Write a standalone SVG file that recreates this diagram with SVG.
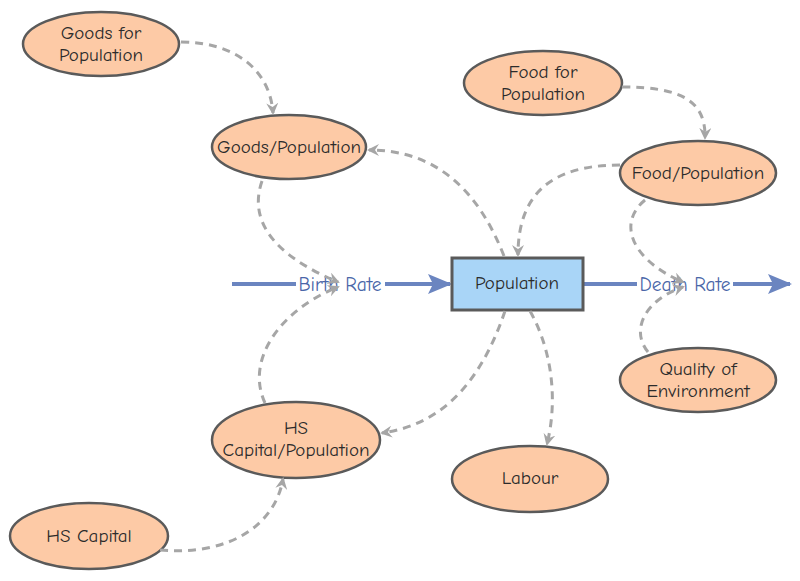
<svg xmlns="http://www.w3.org/2000/svg" width="800" height="581" viewBox="0 0 800 581">
<defs>
<style>
.node ellipse{fill:#fdcaa6;stroke:#5a5a5a;stroke-width:2.5}
.stock rect{fill:#a9d5f7;stroke:#5a5a5a;stroke-width:3}
.lbl{font-family:"Comic Sans MS","Comic Neue","DejaVu Sans",sans-serif;font-size:19px;fill:#2b2b2b;text-anchor:middle;dominant-baseline:central}
.flow{stroke:#6b85c0;stroke-width:4;fill:none}
.flbl{font-family:"Comic Sans MS","Comic Neue","DejaVu Sans",sans-serif;font-size:19.5px;fill:#4a66a8;text-anchor:middle;dominant-baseline:central}
.link{stroke:#a6a6a6;stroke-width:3;fill:none;stroke-dasharray:8 6;marker-end:url(#ah)}
</style>
<marker id="ah" viewBox="0 0 12 12" refX="10" refY="6" markerWidth="12" markerHeight="12" markerUnits="userSpaceOnUse" orient="auto">
<path d="M0,0 L12,6 L0,12 L4,6 z" fill="#a6a6a6"/>
</marker>
<marker id="fa" viewBox="0 0 24 20" refX="22" refY="10" markerWidth="24" markerHeight="20" markerUnits="userSpaceOnUse" orient="auto">
<path d="M0,0 L24,10 L0,20 L5,10 z" fill="#6b85c0"/>
</marker>
</defs>
<rect width="800" height="581" fill="#ffffff"/>
<g id="flows">
<line class="flow" x1="232" y1="284" x2="296" y2="284"/>
<line class="flow" x1="385" y1="284" x2="450" y2="284" marker-end="url(#fa)"/>
<text class="flbl" x="340" y="284">Birth Rate</text>
<line class="flow" x1="583" y1="284" x2="637" y2="284"/>
<line class="flow" x1="733" y1="284" x2="790" y2="284" marker-end="url(#fa)"/>
<text class="flbl" x="685" y="284">Death Rate</text>
</g>
<g id="goods-for-population" class="node"><ellipse cx="101" cy="44" rx="78" ry="32"/><text class="lbl" x="101" y="33">Goods for</text><text class="lbl" x="101" y="55">Population</text></g>
<g id="goods-population" class="node"><ellipse cx="289" cy="147" rx="77" ry="32"/><text class="lbl" x="289" y="147">Goods/Population</text></g>
<g id="food-for-population" class="node"><ellipse cx="543" cy="83" rx="79" ry="32"/><text class="lbl" x="543" y="72">Food for</text><text class="lbl" x="543" y="94">Population</text></g>
<g id="food-population" class="node"><ellipse cx="698" cy="173" rx="78" ry="32"/><text class="lbl" x="698" y="173">Food/Population</text></g>
<g id="population" class="stock"><rect x="452" y="258" width="131" height="52"/><text class="lbl" x="517" y="283">Population</text></g>
<g id="quality-of-environment" class="node"><ellipse cx="698" cy="380" rx="78" ry="32"/><text class="lbl" x="698" y="369">Quality of</text><text class="lbl" x="698" y="391">Environment</text></g>
<g id="hs-capital-population" class="node"><ellipse cx="296" cy="440" rx="84" ry="38"/><text class="lbl" x="296" y="428">HS</text><text class="lbl" x="296" y="450">Capital/Population</text></g>
<g id="hs-capital" class="node"><ellipse cx="89" cy="536" rx="79" ry="33"/><text class="lbl" x="89" y="536">HS Capital</text></g>
<g id="labour" class="node"><ellipse cx="530" cy="479" rx="78" ry="33"/><text class="lbl" x="530" y="478">Labour</text></g>
<g id="connectors">
<path class="link" d="M181,42 C235,42 270,70 273,113"/>
<path class="link" d="M504,256 C480,195 440,150 369,150"/>
<path class="link" d="M622,87 C680,87 706,100 705,138"/>
<path class="link" d="M620,165 C550,165 518,195 518,255"/>
<path class="link" d="M262,181 C245,230 290,262 338,282"/>
<path class="link" d="M265,403 C245,360 280,310 338,287"/>
<path class="link" d="M505,311 C480,385 440,425 382,433"/>
<path class="link" d="M530,311 C552,350 558,400 547,444"/>
<path class="link" d="M160,550 C230,556 275,525 283,479"/>
<path class="link" d="M645,200 C615,225 635,262 683,282"/>
<path class="link" d="M648,352 C630,330 645,300 683,287"/>
</g>
</svg>
